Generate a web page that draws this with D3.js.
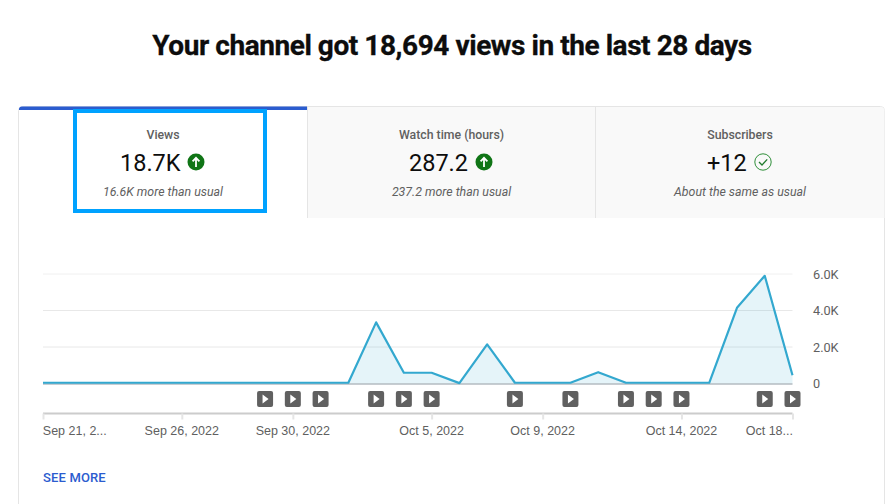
<!DOCTYPE html>
<html>
<head>
<meta charset="utf-8">
<script src="https://cdn.jsdelivr.net/npm/d3@7"></script>
<style>
  html, body { margin: 0; background: #fff; overflow: hidden; }
  svg { display: block; font-family: Roboto, sans-serif; }
  .tick-x text { fill: #606060; font-size: 12.5px; }
  .tick-y text { fill: #606060; font-size: 12.7px; }
</style>
</head>
<body>
<svg class="chart" width="891" height="504"></svg>
<script>
// daily views, Sep 21 - Oct 18 2022
var days = d3.range(28).map(i => new Date(2022, 8, 21 + i));
var views = [40, 40, 40, 40, 40, 40, 40, 40, 40, 40, 40, 40, 3350, 590, 590, 20, 2140, 40, 40, 40, 620, 40, 40, 40, 40, 4150, 5900, 450];
// days that have a video marker (index into days)
var videoDays = [8, 9, 10, 12, 13, 14, 17, 19, 21, 22, 23, 26, 27];

var yTicks = [0, 2000, 4000, 6000];
var yLabels = ['0', '2.0K', '4.0K', '6.0K'];
var xTickDays = [0, 5, 9, 14, 18, 23, 27];
var xLabels = ['Sep 21, 2...', 'Sep 26, 2022', 'Sep 30, 2022', 'Oct 5, 2022', 'Oct 9, 2022', 'Oct 14, 2022', 'Oct 18...'];

var tabTitles = ['Views', 'Watch time (hours)', 'Subscribers'];
var tabValues = ['18.7K', '287.2', '+12'];
var tabNotes = ['16.6K more than usual', '237.2 more than usual', 'About the same as usual'];
var tabIcons = ['up', 'up', 'check'];

const svg = d3.select('svg.chart');
const x = d3.scaleTime().domain([days[0], days[27]]).range([43, 792.5]);
const y = d3.scaleLinear().domain([0, 6000]).range([383.5, 274]);

// title
svg.append('text')
  .attr('x', 452).attr('y', 55)
  .attr('text-anchor', 'middle')
  .attr('font-size', 28).attr('font-weight', 700)
  .attr('letter-spacing', -0.44)
  .attr('fill', '#0d0d0d')
  .attr('stroke', '#0d0d0d').attr('stroke-width', 0.3)
  .text('Your channel got 18,694 views in the last 28 days');

// card + tabs
svg.append('rect')
  .attr('x', 18.5).attr('y', 106.5).attr('width', 866).attr('height', 420).attr('rx', 4)
  .attr('fill', '#fff').attr('stroke', '#e5e5e5');

const tabX = d3.scalePoint().domain(d3.range(4)).range([19, 884.5]);
const tabs = svg.selectAll('g.tab').data(tabTitles).enter().append('g').attr('class', 'tab');

tabs.append('path')
  .attr('d', (d, i) => {
    var l = tabX(i), r = tabX(i + 1);
    return i == 2
      ? `M${l},107 H${r - 4} Q${r},107 ${r},111 V218 H${l} Z`
      : `M${l},107 H${r} V218 H${l} Z`;
  })
  .attr('fill', (d, i) => i == 0 ? '#fff' : '#f9f9f9');

// tab dividers
svg.append('line').attr('x1', 307.5).attr('x2', 307.5).attr('y1', 107).attr('y2', 218).attr('stroke', '#e5e5e5');
svg.append('line').attr('x1', 595.5).attr('x2', 595.5).attr('y1', 107).attr('y2', 218).attr('stroke', '#e5e5e5');
svg.append('path')
  .attr('d', 'M19,110 V109 Q19,106.5 22,106.5 H307 V110 Z')
  .attr('fill', '#2b5ccf');

var centers = [163, 451.5, 740];
tabs.append('text')
  .attr('x', (d, i) => centers[i]).attr('y', 139)
  .attr('text-anchor', 'middle').attr('font-size', 12.3).attr('font-weight', 500)
  .attr('fill', '#606060')
  .text(d => d);

var valueX = [120, 409, 707];
tabs.append('text')
  .attr('x', (d, i) => valueX[i]).attr('y', 171)
  .attr('font-size', 23.5)
  .attr('fill', '#0d0d0d')
  .text((d, i) => tabValues[i]);

tabs.append('text')
  .attr('x', (d, i) => centers[i]).attr('y', 196)
  .attr('text-anchor', 'middle').attr('font-size', 12.35).attr('font-style', 'italic')
  .attr('fill', '#606060')
  .text((d, i) => tabNotes[i]);

// status icons
var iconX = [196, 484, 763];
tabIcons.forEach((kind, i) => {
  var g = svg.append('g').attr('transform', `translate(${iconX[i]},162)`);
  if (kind == 'up') {
    g.append('circle').attr('r', 8.5).attr('fill', '#107516');
    g.append('path').attr('d', 'M0,5 V-3.5 M-3.4,-0.6 L0,-4.2 L3.4,-0.6')
      .attr('fill', 'none').attr('stroke', '#fff').attr('stroke-width', 1.8);
  } else {
    g.append('circle').attr('r', 8.2).attr('fill', 'none').attr('stroke', '#2f8f3a').attr('stroke-width', 1);
    g.append('path').attr('d', 'M-4,0 L-1,3 L4.2,-2.6')
      .attr('fill', 'none').attr('stroke', '#1f7a2c').attr('stroke-width', 1.3);
  }
});

// highlight box
svg.append('rect')
  .attr('x', 75).attr('y', 111).attr('width', 190).attr('height', 100)
  .attr('fill', 'none').attr('stroke', '#00a2ff').attr('stroke-width', 4);

// y axis + grid
const yAxis = d3.axisRight(y)
  .tickValues(yTicks)
  .tickSize(0)
  .tickPadding(20.5)
  .tickFormat((d, i) => yLabels[i]);
const gy = svg.append('g').attr('class', 'tick-y').attr('transform', 'translate(792.5,0)').call(yAxis);
gy.select('.domain').remove();
gy.selectAll('text').attr('font-family', 'Roboto');

svg.selectAll('line.grid').data(yTicks.filter(d => d > 0)).enter().append('line')
  .attr('class', 'grid')
  .attr('x1', x.range()[0]).attr('x2', x.range()[1])
  .attr('y1', d => y(d)).attr('y2', d => y(d))
  .attr('stroke', d => d == 6000 ? '#f0f0f0' : '#e8e8e8');

// area + line
const area = d3.area().x((d, i) => x(days[i])).y0(y(0)).y1(d => y(d));
const line = d3.line().x((d, i) => x(days[i])).y(d => y(d));

svg.append('path').datum(views).attr('d', area).attr('fill', '#2ba4cf').attr('fill-opacity', 0.12);
svg.append('line')
  .attr('x1', x.range()[0]).attr('x2', x.range()[1])
  .attr('y1', y(0) + 0.5).attr('y2', y(0) + 0.5)
  .attr('stroke', '#8f9aa3');
svg.append('path').datum(views).attr('d', line)
  .attr('fill', 'none').attr('stroke', '#33a8cf').attr('stroke-width', 2.2)
  .attr('stroke-linejoin', 'round');

// video markers
const marks = svg.selectAll('g.video').data(videoDays).enter().append('g')
  .attr('class', 'video')
  .attr('transform', d => `translate(${x(days[d])},399)`);
marks.append('rect')
  .attr('x', -8).attr('y', -8).attr('width', 16).attr('height', 16).attr('rx', 2)
  .attr('fill', '#606060');
marks.append('path').attr('d', 'M-2.5,-4.5 L3.5,0 L-2.5,4.5 Z').attr('fill', '#fff');

// x axis
const xAxis = d3.axisBottom(x)
  .tickValues(xTickDays.map(i => days[i]))
  .tickSize(6)
  .tickPadding(7)
  .tickFormat((d, i) => xLabels[i]);
const gx = svg.append('g').attr('class', 'tick-x').attr('transform', 'translate(0,413.5)').call(xAxis);
gx.select('.domain').attr('stroke', '#cccccc').attr('stroke-width', 2).attr('d', 'M43,0 H792.5');
gx.selectAll('.tick line').attr('stroke', '#e5e5e5').attr('stroke-width', 2);
gx.selectAll('.tick text')
  .attr('x', (d, i) => i == 0 ? -0.7 : i == xLabels.length - 1 ? 0 : -0.5)
  .attr('text-anchor', (d, i) => i == 0 ? 'start' : i == xLabels.length - 1 ? 'end' : 'middle');

// see more link
svg.append('text')
  .attr('x', 43).attr('y', 482)
  .attr('font-size', 13).attr('font-weight', 500)
  .attr('letter-spacing', 0.15)
  .attr('fill', '#2b5ccf')
  .text('SEE MORE');
</script>
</body>
</html>
